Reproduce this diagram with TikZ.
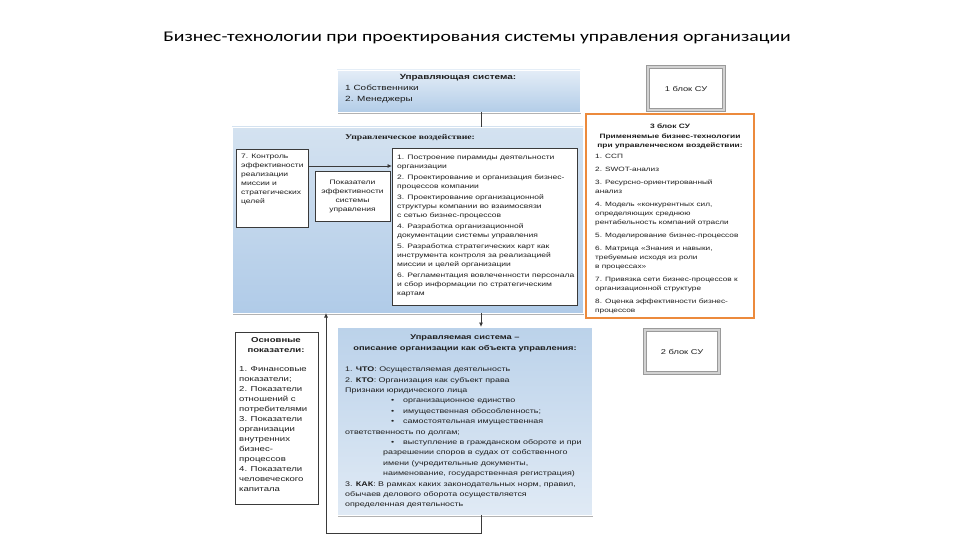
\documentclass[tikz,border=0pt]{standalone}
\usepackage{fontspec}
\setmainfont{Liberation Sans}[FakeStretch=1.33]
\newfontfamily\titlefont{Carlito}[FakeStretch=1.33]
\newfontfamily\serfont{Liberation Serif}[FakeStretch=1.33]
\usetikzlibrary{arrows.meta,shadows}
\definecolor{linec}{HTML}{3A3A3A}
\definecolor{txtc}{HTML}{1E1E1E}
\definecolor{orangec}{HTML}{EC8A3C}
\definecolor{frameg}{HTML}{9A9A9A}
\definecolor{blA}{HTML}{E4EDF7}
\definecolor{blB}{HTML}{B3CDE8}
\definecolor{blC}{HTML}{D4E2F0}
\definecolor{blD}{HTML}{B0CBE8}
\definecolor{blE}{HTML}{BBD2EA}
\definecolor{blF}{HTML}{E0EAF5}
\newcommand\setfs[2]{\fontsize{#1}{#2}\selectfont}
\newcommand\mbul[1]{\hspace*{46pt}\makebox[12pt][l]{•}#1}
\tikzset{
  box/.style={anchor=north west, inner sep=0pt, outer sep=0pt},
  bluebox/.style={box, draw=white, line width=0.8pt,
    drop shadow={shadow xshift=1.2pt, shadow yshift=-1.8pt, fill=black, opacity=0.3}},
  wbox/.style={box, draw=linec, line width=0.7pt, fill=white},
  gframe/.style={box, draw=frameg, line width=1pt, double=gray!35, double distance=2pt, fill=white},
  obox/.style={box, draw=orangec, line width=2.6pt, fill=white},
  txt/.style={anchor=north west, inner sep=0pt, align=left, text=txtc},
  ctxt/.style={inner sep=0pt, align=center, text=txtc},
  conn/.style={draw=linec, line width=0.8pt},
  arr/.style={conn, -{Latex[length=4.5pt,width=4pt]}},
}
\begin{document}
\begin{tikzpicture}[x=1pt,y=-1pt]
\useasboundingbox (0,0) rectangle (960,540);
\fill[white] (0,0) rectangle (960,540);

% title
\node[ctxt, font={\titlefont\setfs{14.8}{18}}, text=black] (title) at (477,38)
  {Бизнес-технологии при проектирования системы управления организации};

% controlling system
\node[bluebox, top color=blA, bottom color=blB, minimum width=243pt, minimum height=42pt] (ctrl) at (337,70) {};
\node[ctxt, font={\bfseries\setfs{7.5}{10}}] (ctrlh) at (458,78) {Управляющая система:};
\node[txt, font={\setfs{7.5}{11}}] (ctrll) at (345,85) {1 Собственники\\2. Менеджеры};

% block 1
\node[gframe, minimum width=76pt, minimum height=43pt] (b1) at (648,67) {};
\node[ctxt, font={\setfs{7}{9}}] (b1t) at (b1.center) {1 блок СУ};

% management influence
\node[bluebox, top color=blC, bottom color=blD, minimum width=351pt, minimum height=186pt] (infl) at (232,127) {};
\node[ctxt, font={\serfont\bfseries\setfs{7.3}{9}}] (inflh) at (410,138) {Управленческое воздействие:};

\node[wbox, minimum width=72pt, minimum height=78pt] (ctl) at (236,149) {};
\node[txt, font={\setfs{6.4}{9}}] (ctlt) at (241,153.5)
  {7. Контроль\\эффективности\\реализации\\миссии и\\стратегических\\целей};

\node[wbox, minimum width=75pt, minimum height=50pt] (kpi) at (315,171) {};
\node[ctxt, font={\setfs{6.4}{9}}] (kpit) at (kpi.center)
  {Показатели\\эффективности\\системы\\управления};

\node[wbox, minimum width=185pt, minimum height=157pt] (list) at (392,148) {};
\node[txt, font={\setfs{6.4}{9}}] (listt) at (397,154.5)
  {1. Построение пирамиды деятельности\\организации\\[2pt]
   2. Проектирование и организация бизнес-\\процессов компании\\[2pt]
   3. Проектирование организационной\\структуры компании во взаимосвязи\\с сетью бизнес-процессов\\[2pt]
   4. Разработка организационной\\документации системы управления\\[2pt]
   5. Разработка стратегических карт как\\инструмента контроля за реализацией\\миссии и целей организации\\[2pt]
   6. Регламентация вовлеченности персонала\\и сбор информации по стратегическим\\картам};

% block 3 (orange)
\node[obox, minimum width=168pt, minimum height=204pt] (b3) at (586,114) {};
\node[ctxt, font={\bfseries\setfs{6.3}{9.5}}] (b3h) at (670,136.5)
  {3 блок СУ\\Применяемые бизнес-технологии\\при управленческом воздействии:};
\node[txt, font={\setfs{6.2}{9}}] (b3l) at (595,153.5)
  {1. ССП\\[4pt]
   2. SWOT-анализ\\[4pt]
   3. Ресурсно-ориентированный\\анализ\\[4pt]
   4. Модель «конкурентных сил,\\определяющих среднюю\\рентабельность компаний отрасли\\[4pt]
   5. Моделирование бизнес-процессов\\[4pt]
   6. Матрица «Знания и навыки,\\требуемые исходя из роли\\в процессах»\\[4pt]
   7. Привязка сети бизнес-процессов к\\организационной структуре\\[4pt]
   8. Оценка эффективности бизнес-\\процессов};

% block 2
\node[gframe, minimum width=74pt, minimum height=43pt] (b2) at (645,330) {};
\node[ctxt, font={\setfs{7}{9}}] (b2t) at (b2.center) {2 блок СУ};

% key indicators
\node[wbox, minimum width=83pt, minimum height=172pt] (ind) at (235,332) {};
\node[ctxt, font={\bfseries\setfs{7.2}{10}}] (indh) at (276,345) {Основные\\показатели:};
\node[txt, font={\setfs{7.2}{10}}] (indl) at (239,366.5)
  {1. Финансовые\\показатели;\\2. Показатели\\отношений с\\потребителями\\3. Показатели\\организации\\внутренних\\бизнес-\\процессов\\4. Показатели\\человеческого\\капитала};

% managed system
\node[bluebox, top color=blE, bottom color=blF, minimum width=255pt, minimum height=188pt] (mng) at (337,327) {};
\node[ctxt, font={\bfseries\setfs{7}{10.8}}] (mngh) at (465,343.5)
  {Управляемая система –\\описание организации как объекта управления:};
\node[txt, font={\setfs{6.7}{10.4}}] (mngl) at (345,366.8)
  {1. \textbf{ЧТО}: Осуществляемая деятельность\\
   2. \textbf{КТО}: Организация как субъект права\\
   Признаки юридического лица\\
   \mbul{организационное единство}\\
   \mbul{имущественная обособленность;}\\
   \mbul{самостоятельная имущественная}\\
   ответственность по долгам;\\
   \mbul{выступление в гражданском обороте и при}\\
   \hspace*{38pt}разрешении споров в судах от собственного\\
   \hspace*{38pt}имени (учредительные документы,\\
   \hspace*{38pt}наименование, государственная регистрация)\\
   3. \textbf{КАК}: В рамках каких законодательных норм, правил,\\
   обычаев делового оборота осуществляется\\
   определенная деятельность};

% connectors
\coordinate (cx) at (481,0);
\coordinate (ay) at (300,166);
\coordinate (lb) at (481,533);
\coordinate (lx) at (326,533);
\draw[conn] (cx |- ctrl.south) -- (cx |- infl.north);
\draw[arr] (ctl.east |- ay) -- (list.west |- ay);
\draw[arr] (cx |- infl.south) -- (cx |- mng.north);
\draw[arr] (cx |- mng.south) -- (lb) -- (lx) -- (lx |- infl.south);
\end{tikzpicture}
\end{document}
